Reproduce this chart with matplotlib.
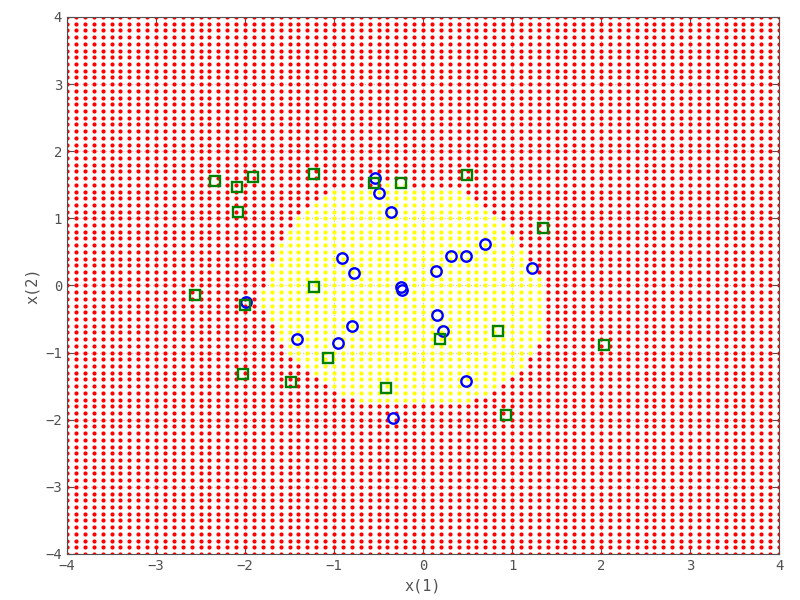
import numpy as np
import matplotlib
matplotlib.use("Agg")
import matplotlib.pyplot as plt

# rows of the mesh that fall inside the yellow region: (y, first x, last x)
region_y = [1.5, 1.4, 1.3, 1.2, 1.1, 1.0, 0.9, 0.8, 0.7, 0.6, 0.5, 0.4, 0.3, 0.2, 0.1, 0.0,
            -0.1, -0.2, -0.3, -0.4, -0.5, -0.6, -0.7, -0.8, -0.9, -1.0, -1.1, -1.2, -1.3,
            -1.4, -1.5, -1.6, -1.7]
region_left = [-0.4, -1.0, -1.1, -1.2, -1.3, -1.4, -1.4, -1.5, -1.5, -1.6, -1.6, -1.6, -1.7,
               -1.7, -1.7, -1.7, -1.8, -1.8, -1.8, -1.7, -1.7, -1.6, -1.6, -1.6, -1.5, -1.5,
               -1.4, -1.3, -1.2, -1.1, -1.0, -0.9, -0.7]
region_right = [-0.2, 0.4, 0.5, 0.6, 0.7, 0.8, 0.9, 0.9, 1.0, 1.0, 1.1, 1.1, 1.2, 1.2, 1.3,
                1.3, 1.3, 1.3, 1.3, 1.3, 1.3, 1.3, 1.3, 1.3, 1.2, 1.2, 1.1, 1.1, 1.0, 0.9,
                0.8, 0.7, 0.5]

# class 1 samples (blue circles)
pos_x = [-0.54, -0.49, -0.36, -0.91, -0.78, -0.25, -0.24, 0.15, 0.31, 0.48, 0.70, 1.22,
         -1.99, -1.42, -0.80, -0.96, 0.16, 0.22, 0.48, -0.34]
pos_y = [1.60, 1.38, 1.10, 0.41, 0.19, -0.02, -0.07, 0.22, 0.44, 0.44, 0.62, 0.26,
         -0.25, -0.80, -0.60, -0.86, -0.44, -0.68, -1.42, -1.97]

# class 0 samples (green squares)
neg_x = [-2.34, -2.09, -1.91, -2.08, -1.22, -0.55, -0.25, 0.49, 1.35, -2.56, -2.00, -1.22,
         -2.02, -1.48, -1.07, -0.42, 0.19, 0.84, 0.93, 2.03]
neg_y = [1.56, 1.47, 1.62, 1.10, 1.66, 1.53, 1.53, 1.65, 0.86, -0.14, -0.29, -0.02,
         -1.32, -1.44, -1.08, -1.53, -0.80, -0.68, -1.93, -0.89]

# mesh of the plane
grid_vals = np.round(np.arange(-40, 41) / 10.0, 1)
gx, gy = np.meshgrid(grid_vals, grid_vals)
inside = np.zeros(gx.shape, dtype=bool)
for y, lo, hi in zip(region_y, region_left, region_right):
    row = np.isclose(gy, y)
    inside |= row & (gx >= lo - 1e-9) & (gx <= hi + 1e-9)

plt.rcParams["font.family"] = ["DejaVu Sans Mono"]

fig = plt.figure(figsize=(8, 6), dpi=100)
ax = fig.add_axes([0.08375, 0.0767, 0.89, 0.895])

ax.grid(True, color="#c8c8c8", linestyle=":", linewidth=0.8, zorder=0)
ax.set_axisbelow(True)

ax.scatter(gx[~inside], gy[~inside], s=9, color="red", linewidths=0, zorder=2)
ax.scatter(gx[inside], gy[inside], s=9, color="yellow", linewidths=0, zorder=2)

ax.plot(pos_x, pos_y, "o", markersize=7.5, markerfacecolor="none", markeredgecolor="blue",
        markeredgewidth=1.7, zorder=3)
ax.plot(neg_x, neg_y, "s", markersize=7.5, markerfacecolor="none", markeredgecolor="green",
        markeredgewidth=1.7, zorder=3)

ax.set_xlim(-4, 4)
ax.set_ylim(-4, 4)
ax.set_xticks(range(-4, 5))
ax.set_yticks(range(-4, 5))
ax.set_xlabel("x(1)", color="#505050", fontsize=11)
ax.set_ylabel("x(2)", color="#505050", fontsize=11)
ax.tick_params(direction="in", colors="#505050", labelsize=10, length=5,
               top=True, right=True)
for spine in ax.spines.values():
    spine.set_color("#505050")

fig.savefig("out.png", dpi=100)
